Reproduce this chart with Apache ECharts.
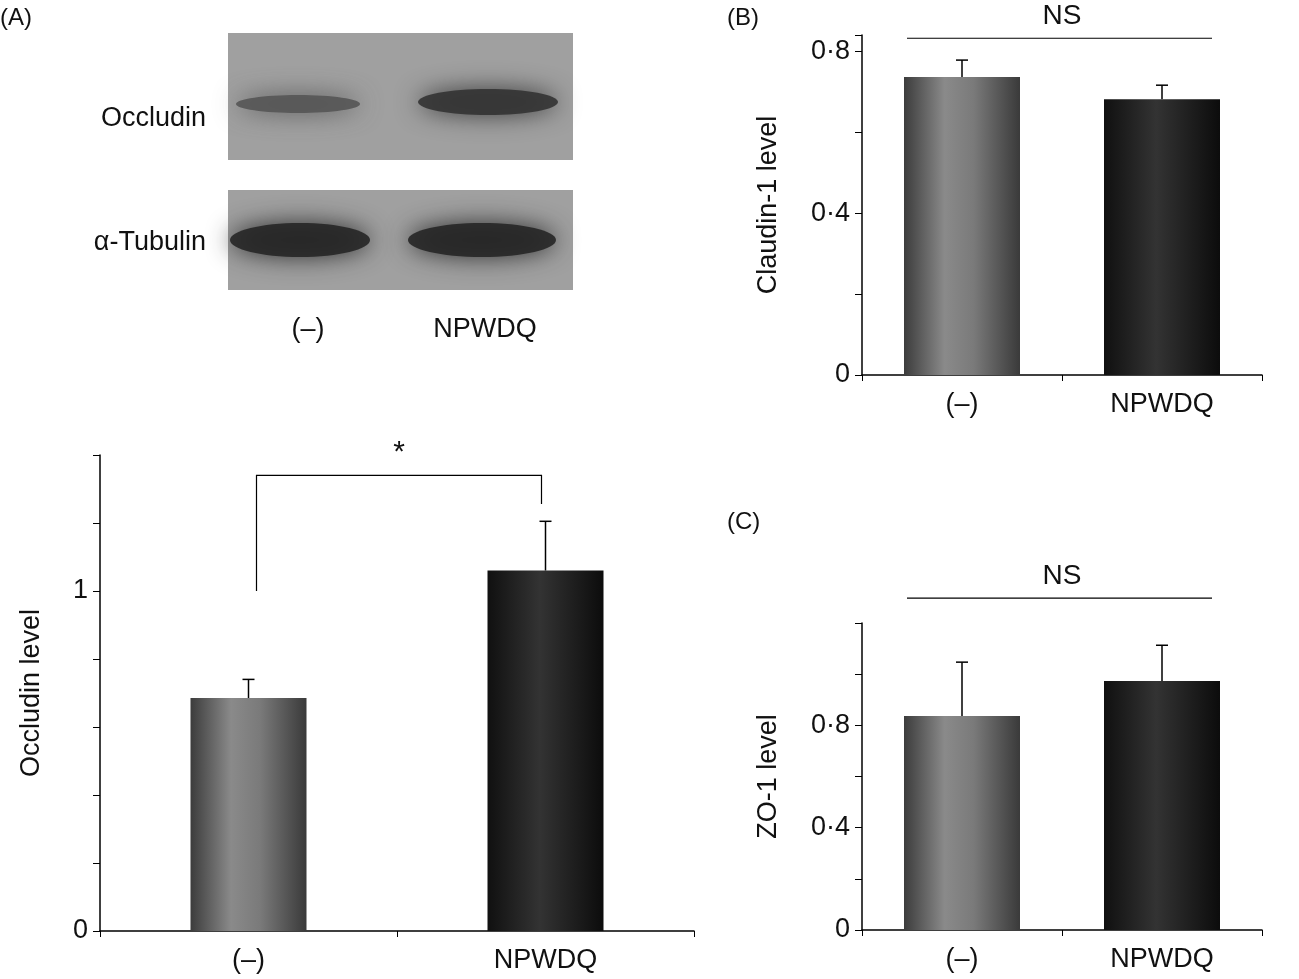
<!DOCTYPE html>
<html><head><meta charset="utf-8">
<script src="https://cdn.jsdelivr.net/npm/echarts@6/dist/echarts.min.js"></script>
<style>html,body{margin:0;background:#fff}#c{width:1299px;height:979px}</style>
</head><body><div id="c"></div>
<script>
const categories = ['(–)', 'NPWDQ'];
const occludinMean = [0.685, 1.06];
const occludinErr = [0.055, 0.145];
const claudinMean = [0.736, 0.681];
const claudinErr = [0.042, 0.035];
const zo1Mean = [0.836, 0.973];
const zo1Err = [0.211, 0.14];
const yTicksA = ['0', '1'];
const yTicksB = ['0', '0·4', '0·8'];
const yTicksC = ['0', '0·4', '0·8'];
const bracketA = [[0, 1.0], [0, 1.34], [1, 1.34], [1, 1.256]];
const nsB = 0.832, nsC = 1.297;

const F = 'Liberation Sans, Arial, sans-serif';
const grayGrad = {type:'linear',x:0,y:0,x2:1,y2:0,colorStops:[{offset:0,color:'#3c3c3c'},{offset:0.35,color:'#8a8a8a'},{offset:0.6,color:'#7a7a7a'},{offset:1,color:'#3a3a3a'}]};
const darkGrad = {type:'linear',x:0,y:0,x2:1,y2:0,colorStops:[{offset:0,color:'#101010'},{offset:0.45,color:'#333'},{offset:1,color:'#0c0c0c'}]};
function fmt(list){return v => { const s = String(+v.toFixed(2)).replace('.', '·'); return list.includes(s) ? s : ''; };}
function mkY(i, max, interval, list, name, gap){
  return {gridIndex:i, type:'value', min:0, max, interval,
    axisLine:{show:true,lineStyle:{color:'#000',width:1.5}}, axisTick:{show:true,length:7,lineStyle:{color:'#000'}},
    splitLine:{show:false}, axisLabel:{formatter:fmt(list),color:'#111',fontSize:27,fontFamily:F,margin:12,showMaxLabel:true},
    name, nameLocation:'middle', nameGap:gap, nameTextStyle:{fontSize:27,fontFamily:F,color:'#111'}};
}
function mkX(i){
  return {gridIndex:i, type:'category', data:categories,
    axisLine:{lineStyle:{color:'#000',width:1.5}}, axisTick:{show:true,length:6,interval:0,inside:false,lineStyle:{color:'#000'}},
    axisLabel:{color:'#111',fontSize:27,fontFamily:F,margin:16}};
}
function bars(i, vals){
  return {type:'bar', xAxisIndex:i, yAxisIndex:i, barWidth:116, z:2,
    data: vals.map((v,k)=>({value:v,itemStyle:{color:k?darkGrad:grayGrad}}))};
}
function errs(i, m, e){
  return {type:'custom', xAxisIndex:i, yAxisIndex:i, z:1,
    data: m.map((v,k)=>[k, v, v+e[k]]),
    renderItem:(p,api)=>{
      const a=api.coord([api.value(0),api.value(1)]), b=api.coord([api.value(0),api.value(2)]);
      return {type:'group',children:[
        {type:'line',shape:{x1:a[0],y1:a[1],x2:b[0],y2:b[1]},style:{stroke:'#000',lineWidth:1.5}},
        {type:'line',shape:{x1:b[0]-6,y1:b[1],x2:b[0]+6,y2:b[1]},style:{stroke:'#000',lineWidth:1.5}}]};
    }};
}
function nsLine(i, y, text){
  return {type:'custom', xAxisIndex:i, yAxisIndex:i, z:3, data:[[y]], clip:false,
    renderItem:(p,api)=>{
      const a=api.coord([0,api.value(0)]), b=api.coord([1,api.value(0)]);
      return {type:'group',children:[
        {type:'line',shape:{x1:a[0]-55,y1:a[1],x2:b[0]+50,y2:b[1]},style:{stroke:'#000',lineWidth:1.2}},
        {type:'text',style:{text,x:(a[0]+b[0])/2,y:a[1]-8,align:'center',verticalAlign:'bottom',fontSize:28,fontFamily:F,fill:'#111'}}]};
    }};
}
const bracket = {type:'custom', xAxisIndex:0, yAxisIndex:0, z:3, clip:false, data:[0],
  renderItem:(p,api)=>{
    const pts = bracketA.map(q=>api.coord(q));
    pts[0][0]+=8; pts[1][0]+=8; pts[2][0]-=4; pts[3][0]-=4;
    return {type:'group',children:[
      {type:'polyline',shape:{points:pts},style:{stroke:'#000',lineWidth:1.2,fill:null}},
      {type:'text',style:{text:'*',x:(pts[1][0]+pts[2][0])/2,y:pts[1][1]-8,align:'center',verticalAlign:'bottom',fontSize:30,fontFamily:F,fill:'#111'}}]};
  }};

function band(cx, cy, rx, ry, col){
  return {type:'ellipse', shape:{cx,cy,rx,ry}, style:{fill:col, shadowBlur:24, shadowColor:col, opacity:0.9}};
}
const T = (text,x,y,size,align)=>({type:'text',style:{text,x,y,fontSize:size||27,fontFamily:F,fill:'#111',align:align||'left',verticalAlign:'middle'}});

const chart = echarts.init(document.getElementById('c'));
chart.setOption({
  animation:false,
  grid:[
    {left:100, top:455, width:594, height:476},
    {left:862, top:35, width:400, height:340},
    {left:862, top:623, width:400, height:307}
  ],
  xAxis:[mkX(0), mkX(1), mkX(2)],
  yAxis:[mkY(0,1.4,0.2,yTicksA,'Occludin level',55), mkY(1,0.84,0.2,yTicksB,'Claudin-1 level',80), mkY(2,1.2,0.2,yTicksC,'ZO-1 level',80)],
  series:[bars(0,occludinMean), errs(0,occludinMean,occludinErr), bracket,
          bars(1,claudinMean), errs(1,claudinMean,claudinErr), nsLine(1,nsB,'NS'),
          bars(2,zo1Mean), errs(2,zo1Mean,zo1Err), nsLine(2,nsC,'NS')],
  graphic:[
    T('(A)',0,18,24), T('(B)',727,18,24), T('(C)',727,522,24),
    {type:'group', children:[
      {type:'rect', shape:{x:228,y:33,width:345,height:127}, style:{fill:'#a0a0a0'}},
      {type:'rect', shape:{x:228,y:190,width:345,height:100}, style:{fill:'#a0a0a0'}},
      band(298,104,62,9,'#555'), band(488,102,70,13,'#333'),
      band(300,240,70,17,'#262626'), band(482,240,74,17,'#262626')
    ]},
    T('Occludin',206,119,27,'right'), T('α-Tubulin',206,243,27,'right'),
    T('(–)',308,330,27,'center'), T('NPWDQ',485,330,27,'center')
  ]
});
</script></body></html>
